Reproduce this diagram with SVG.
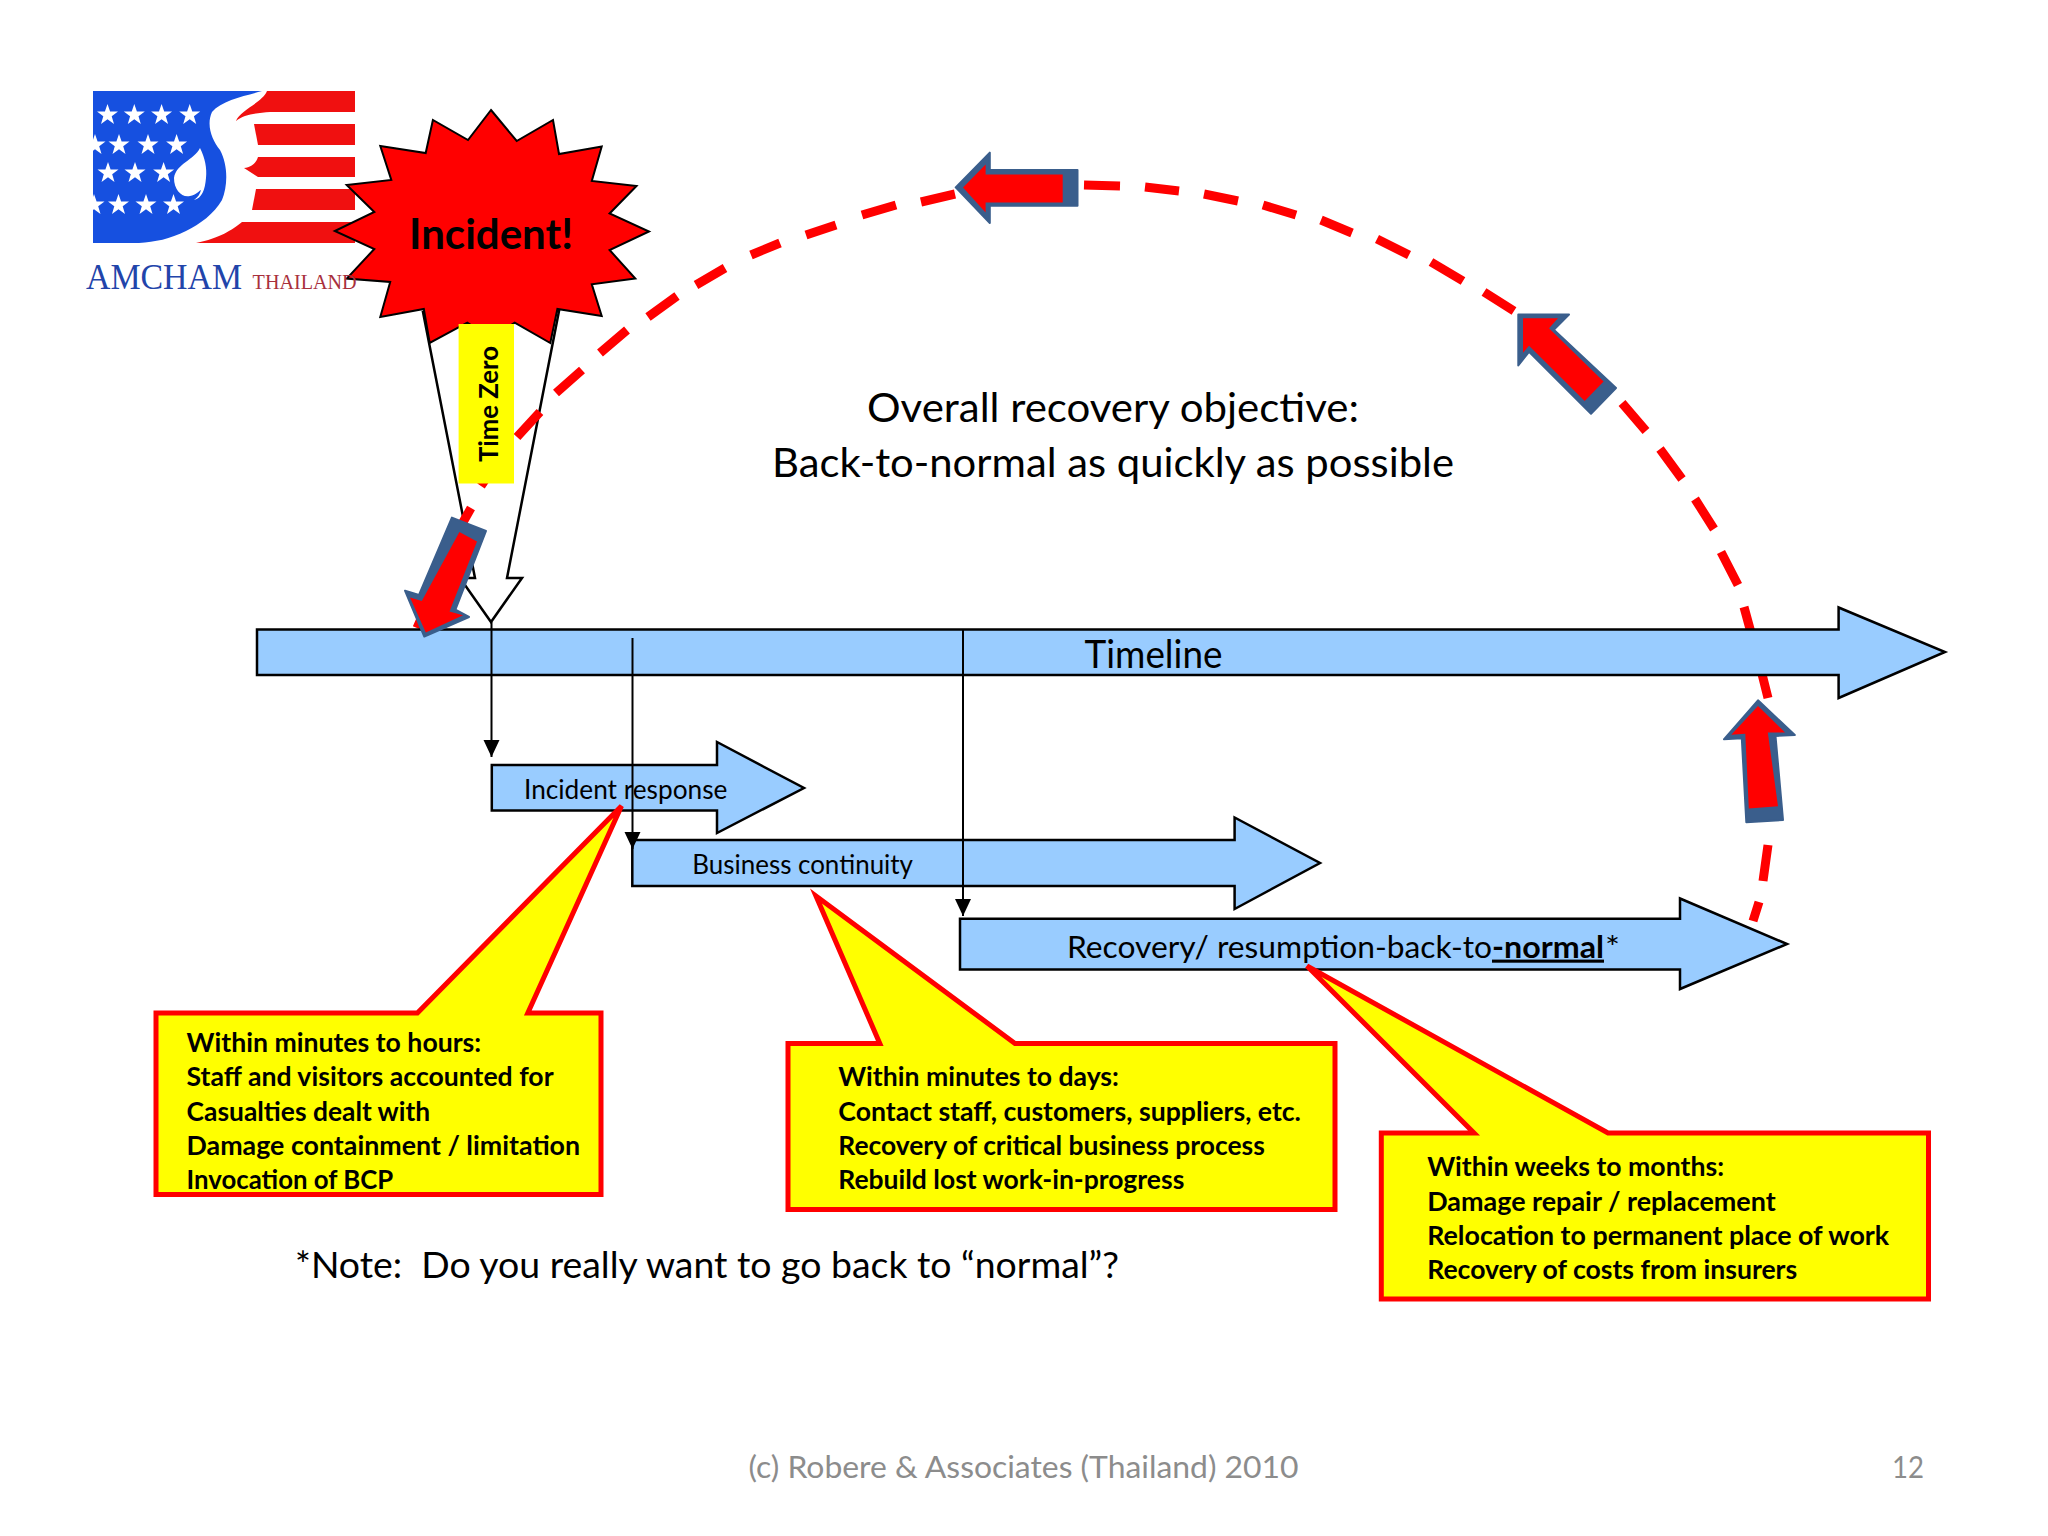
<svg xmlns="http://www.w3.org/2000/svg" width="2048" height="1536" viewBox="0 0 2048 1536">
<style>
text{font-family:Lato,"Open Sans","Liberation Sans",sans-serif;fill:#000}
.b{font-weight:700;font-size:26px}
.blk{fill:#99ccff;stroke:#000;stroke-width:2.5}
.call{fill:#ffff00;stroke:#ff0000;stroke-width:5}
.o{fill:#3a5e8c;stroke:#3a5e8c;stroke-width:2;stroke-linejoin:round}
.r{fill:#ff0000}
.foot{fill:#8c8c8c;font-size:31px}
</style>
<defs>
<polygon id="st" points="0,-11 2.6,-3.5 10.5,-3.4 4.2,1.3 6.5,8.9 0,4.3 -6.5,8.9 -4.2,1.3 -10.5,-3.4 -2.6,-3.5" fill="#fff"/>
<clipPath id="flagclip"><rect x="93" y="91" width="262" height="152"/></clipPath>
<marker id="ah" markerUnits="userSpaceOnUse" markerWidth="18" markerHeight="18" refX="17" refY="9" orient="auto"><path d="M0,1L17,9L0,17z" fill="#000"/></marker>
</defs>
<rect width="2048" height="1536" fill="#fff"/>
<g id="logo" clip-path="url(#flagclip)">
<path d="M93,91H262C245,96 222,100 212,112C206,125 212,140 220,150C228,165 228,185 222,200C214,214 200,224 186,231C170,239 155,242 139,243H93z" fill="#1650e0"/>
<path d="M200,148C194,160 176,164 174,178C174,190 182,198 190,196C196,195 200,190 201,190C200,194 198,197 194,200C202,198 205,190 206,178C207,168 205,158 200,148z" fill="#fff"/>
<use href="#st" x="107.5" y="115"/><use href="#st" x="134.3" y="115"/><use href="#st" x="161.6" y="115"/><use href="#st" x="189.7" y="115"/>
<use href="#st" x="95" y="145"/><use href="#st" x="119" y="145"/><use href="#st" x="148" y="145"/><use href="#st" x="176.6" y="145"/>
<use href="#st" x="108" y="173"/><use href="#st" x="135" y="173"/><use href="#st" x="163.6" y="173"/>
<use href="#st" x="94" y="205"/><use href="#st" x="118.5" y="205"/><use href="#st" x="146" y="205"/><use href="#st" x="173.5" y="205"/>
<path d="M267,91H355V112H270C258,113 244,114 236,121C240,110 262,103 267,91z" fill="#f01010"/>
<path d="M254,124H355V145H258z" fill="#f01010"/>
<path d="M258,157H355V177H258L244,168C252,167 256,163 258,157z" fill="#f01010"/>
<path d="M256,189H355V210H252z" fill="#f01010"/>
<path d="M196,243C220,238 232,230 242,222H355V243z" fill="#f01010"/>
</g>
<g id="time-zero-arrow"><polygon points="423,312 475,578 460,578 491,622 522,578 507,578 559,311" fill="#fff" stroke="#000" stroke-width="2.5"/></g>
<g id="recovery-arc"><path fill="none" stroke="#ff0000" stroke-width="9" d="M424,612L417,628M471,508L453,540M501,456L481,486M517,437L540,412M556,393L582,370M600,353L627,330M648,317L677,296M696,285L725,268M751,255L780,243M806,235L836,225M862,215L896,205M921,202L955,194M1084,185L1120,186M1145,187L1179,191M1204,194L1238,201M1263,205L1296,215M1321,220L1352,233M1377,239L1409,255M1431,262L1463,281M1484,292L1514,311M1622,403L1646,431M1660,449L1682,479M1695,499L1714,529M1721,552L1738,585M1744,607L1753,640M1761,670L1768,698M1768,845L1763,881M1759,902L1753,921"/></g>
<g id="incident"><polygon points="491,110 516.7,141 553,120 559,154 601.7,146.5 591.8,181 636.5,186 609.6,213.5 649,231.5 609.6,250 635.3,278.6 591.8,284.3 601.7,316 557.4,309 550.3,343 514.7,322.6 491,338 467.3,322.6 429.7,343 423.8,309 380.3,317 390.2,282 346.7,278.6 374.3,249 334.8,231 374.3,212 346.7,185 391.3,180 380.3,146 425.7,153 432.9,120 468,140" fill="#ff0000" stroke="#000" stroke-width="2"/>
<text x="409" y="249" font-size="42" font-weight="700" textLength="164" lengthAdjust="spacingAndGlyphs">Incident!</text></g>
<g id="logo-text">
<text x="86" y="289" font-size="35" textLength="156" lengthAdjust="spacingAndGlyphs" style="font-family:'Liberation Serif',serif;fill:#2244aa">AMCHAM</text>
<text x="252.6" y="289" font-size="21" textLength="104" lengthAdjust="spacingAndGlyphs" style="font-family:'Liberation Serif',serif;fill:#a8303c">THAILAND</text>
</g>
<g id="time-zero"><rect x="458.6" y="324" width="55.4" height="159.5" fill="#ffff00"/>
<text transform="translate(498,462) rotate(-90)" font-size="26" font-weight="700" textLength="116" lengthAdjust="spacingAndGlyphs">Time Zero</text></g>
<g id="objective"><text x="867" y="421.5" font-size="40" textLength="492" lengthAdjust="spacingAndGlyphs">Overall recovery objective:</text>
<text x="772" y="476.5" font-size="40" textLength="682" lengthAdjust="spacingAndGlyphs">Back-to-normal as quickly as possible</text></g>
<g id="timeline"><polygon class="blk" points="257,629.5 1838.6,629.5 1838.6,607.5 1945,652 1838.6,698 1838.6,675 257,675"/>
<text x="1084.5" y="668" font-size="38" textLength="138" lengthAdjust="spacingAndGlyphs">Timeline</text></g>
<g id="incident-response"><polygon class="blk" points="491.8,765 717,765 717,742 804,788 717,833 717,810.4 491.8,810.4"/>
<text x="524" y="799" font-size="26" textLength="203.4" lengthAdjust="spacingAndGlyphs">Incident response</text></g>
<g id="business-continuity"><polygon class="blk" points="632.3,840 1234.6,840 1234.6,817.5 1320,863 1234.6,909 1234.6,886 632.3,886"/>
<text x="692.3" y="874" font-size="26" textLength="220.7" lengthAdjust="spacingAndGlyphs">Business continuity</text></g>
<g id="recovery"><polygon class="blk" points="960,918.8 1680,918.8 1680,898.5 1787,944 1680,989 1680,969.4 960,969.4"/>
<text y="957.6" font-size="31"><tspan x="1067" textLength="425" lengthAdjust="spacingAndGlyphs">Recovery/ resumption-back-to</tspan><tspan x="1492" textLength="112" lengthAdjust="spacingAndGlyphs" font-weight="700" text-decoration="underline">-normal</tspan><tspan x="1605" textLength="15" lengthAdjust="spacingAndGlyphs">*</tspan></text></g>
<g id="connectors" fill="none" stroke="#000" stroke-width="2">
<line x1="491.5" y1="622" x2="491.5" y2="757" marker-end="url(#ah)"/>
<line x1="632.5" y1="638" x2="632.5" y2="849" marker-end="url(#ah)"/>
<line x1="963" y1="630" x2="963" y2="916" marker-end="url(#ah)"/>
</g>
<g id="arrow-top"><polygon class="o" points="955.7,187.4 989.8,152.6 989.8,170 1077.5,170 1077.5,205.7 989.8,205.7 989.8,223"/><polygon class="r" points="963,187.4 985.6,164.4 985.6,174.5 1062.7,174.5 1062.7,202.5 985.6,202.5 985.6,212.6"/></g>
<g id="arrow-upper-right"><polygon class="o" points="1518.3,314.6 1569,314.6 1553.8,329.7 1616,388 1591,413.7 1529,351.8 1518.3,365.4"/><polygon class="r" points="1523,318.2 1558,318.2 1549,328.3 1603.6,381.6 1584.7,401 1529,345.8 1523,352.7"/></g>
<g id="arrow-right"><polygon class="o" points="1758,700.3 1794.8,735 1775.5,736 1783,820 1746.3,822.3 1741.8,738.3 1723.9,739.3"/><polygon class="r" points="1758,706 1785,732.4 1767.8,732.4 1778,806.3 1748.8,808.6 1745.3,733.8 1731.3,734.7"/></g>
<g id="arrow-lower-left"><polygon class="o" points="451.9,517.6 486,531 455.4,609.6 469,617 424.3,636.5 405,590.7 419,595"/><polygon class="r" points="459.4,532 477,541.5 449.5,611.5 463,615.3 425.8,632.6 410,597.4 421.8,601"/></g>
<g id="callout-hours"><polygon class="call" points="156,1013 417.4,1013 621.5,806 527.8,1013 601,1013 601,1194.6 156,1194.6"/>
<text class="b" x="186.6" y="1052" textLength="294.6" lengthAdjust="spacingAndGlyphs">Within minutes to hours:</text>
<text class="b" x="186.6" y="1086" textLength="367" lengthAdjust="spacingAndGlyphs">Staff and visitors accounted for</text>
<text class="b" x="186.6" y="1121" textLength="243.6" lengthAdjust="spacingAndGlyphs">Casualties dealt with</text>
<text class="b" x="186.6" y="1155" textLength="393.5" lengthAdjust="spacingAndGlyphs">Damage containment / limitation</text>
<text class="b" x="186.6" y="1188.5" textLength="206.6" lengthAdjust="spacingAndGlyphs">Invocation of BCP</text></g>
<g id="callout-days"><polygon class="call" points="788,1043.5 879.8,1043.5 816,896 1015,1043.5 1335,1043.5 1335,1209.5 788,1209.5"/>
<text class="b" x="838.3" y="1086" textLength="280.6" lengthAdjust="spacingAndGlyphs">Within minutes to days:</text>
<text class="b" x="838.3" y="1121" textLength="462.6" lengthAdjust="spacingAndGlyphs">Contact staff, customers, suppliers, etc.</text>
<text class="b" x="838.3" y="1155" textLength="426.5" lengthAdjust="spacingAndGlyphs">Recovery of critical business process</text>
<text class="b" x="838.3" y="1188.5" textLength="346" lengthAdjust="spacingAndGlyphs">Rebuild lost work-in-progress</text></g>
<g id="callout-months"><polygon class="call" points="1381.3,1133 1474,1133 1307,966 1608,1133 1928.5,1133 1928.5,1299 1381.3,1299"/>
<text class="b" x="1427.2" y="1176" textLength="296.8" lengthAdjust="spacingAndGlyphs">Within weeks to months:</text>
<text class="b" x="1427.2" y="1210.6" textLength="348.5" lengthAdjust="spacingAndGlyphs">Damage repair / replacement</text>
<text class="b" x="1427.2" y="1244.5" textLength="462" lengthAdjust="spacingAndGlyphs">Relocation to permanent place of work</text>
<text class="b" x="1427.2" y="1278.8" textLength="370" lengthAdjust="spacingAndGlyphs">Recovery of costs from insurers</text></g>
<g id="note"><text x="295" y="1278" font-size="36" textLength="824" lengthAdjust="spacingAndGlyphs" style="white-space:pre">*Note:  Do you really want to go back to “normal”?</text></g>
<g id="footer"><text class="foot" x="748.5" y="1478" textLength="550" lengthAdjust="spacingAndGlyphs">(c) Robere &amp; Associates (Thailand) 2010</text>
<text class="foot" x="1892" y="1478" textLength="32" lengthAdjust="spacingAndGlyphs">12</text></g>
</svg>
